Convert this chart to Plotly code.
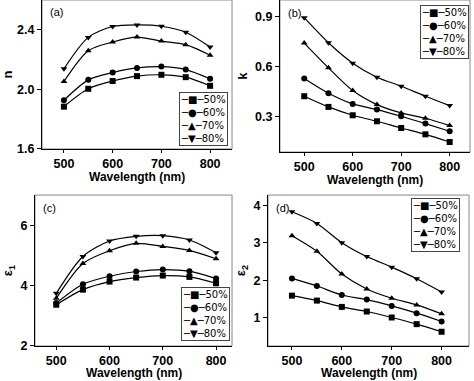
import plotly.graph_objects as go

wavelength = [500, 550, 600, 650, 700, 750, 800]
series_names = ["50%", "60%", "70%", "80%"]
series_glyphs = ["■", "●", "▲", "▼"]

n_50 = [1.884, 2.004, 2.056, 2.089, 2.098, 2.082, 2.024]
n_60 = [1.927, 2.064, 2.113, 2.144, 2.153, 2.133, 2.071]
n_70 = [2.053, 2.260, 2.318, 2.351, 2.324, 2.300, 2.229]
n_80 = [2.138, 2.349, 2.422, 2.433, 2.424, 2.384, 2.284]

k_50 = [0.424, 0.360, 0.310, 0.274, 0.234, 0.196, 0.150]
k_60 = [0.530, 0.442, 0.378, 0.344, 0.304, 0.260, 0.214]
k_70 = [0.742, 0.594, 0.458, 0.374, 0.324, 0.292, 0.248]
k_80 = [0.894, 0.744, 0.622, 0.538, 0.484, 0.424, 0.368]

e1_50 = [3.367, 3.867, 4.133, 4.267, 4.333, 4.289, 4.078]
e1_60 = [3.420, 4.044, 4.311, 4.467, 4.533, 4.478, 4.233]
e1_70 = [3.578, 4.733, 5.156, 5.400, 5.300, 5.167, 4.889]
e1_80 = [3.744, 4.967, 5.478, 5.633, 5.656, 5.511, 5.089]

e2_50 = [1.591, 1.459, 1.291, 1.168, 1.009, 0.832, 0.629]
e2_60 = [2.050, 1.847, 1.609, 1.485, 1.318, 1.124, 0.903]
e2_70 = [3.188, 2.774, 2.165, 1.768, 1.521, 1.344, 1.106]
e2_80 = [3.824, 3.515, 3.003, 2.632, 2.350, 2.041, 1.688]

x_ticks = [500, 600, 700, 800]
x_title = "Wavelength (nm)"

panels = [
    dict(data=[n_50, n_60, n_70, n_80], ytitle="n", label="(a)",
         xdom=[0.0886, 0.4895], ydom=[0.609, 1.0], xr=[455, 845], yr=[1.6, 2.6],
         ytick=[1.6, 2.0, 2.4], ytext=["1.6", "2.0", "2.4"], tshift=-28,
         leg=dict(x=0.979, y=0.02, yanchor="bottom")),
    dict(data=[k_50, k_60, k_70, k_80], ytitle="k", label="(b)",
         xdom=[0.5907, 0.9916], ydom=[0.601, 1.0], xr=[450, 842], yr=[0.09, 1.0],
         ytick=[0.3, 0.6, 0.9], ytext=["0.3", "0.6", "0.9"], tshift=-28,
         leg=dict(x=0.995, y=0.967, yanchor="top")),
    dict(data=[e1_50, e1_60, e1_70, e1_80], ytitle="ε<sub>1</sub>", label="(c)",
         xdom=[0.0738, 0.4895], ydom=[0.0919, 0.488], xr=[460, 830], yr=[2, 7],
         ytick=[2, 4, 6], ytext=["2", "4", "6"], tshift=-27,
         leg=dict(x=0.99, y=0.033, yanchor="bottom")),
    dict(data=[e2_50, e2_60, e2_70, e2_80], ytitle="ε<sub>2</sub>", label="(d)",
         xdom=[0.5654, 0.9895], ydom=[0.0919, 0.488], xr=[452, 855], yr=[0.25, 4.27],
         ytick=[1, 2, 3, 4], ytext=["1", "2", "3", "4"], tshift=-27,
         leg=dict(x=0.955, y=0.98, yanchor="top")),
]

symbols = ["square", "circle", "triangle-up", "triangle-down"]
legend_text = "<br>".join("─" + g + "─" + s for g, s in zip(series_glyphs, series_names))

fig = go.Figure()
layout = dict(
    width=474, height=381, margin=dict(l=0, r=0, t=0, b=0, autoexpand=False),
    paper_bgcolor="white", plot_bgcolor="white",
    font=dict(family="Liberation Sans, Arial, sans-serif", color="black"),
    annotations=[], shapes=[], showlegend=False,
)

for i, p in enumerate(panels):
    idx = "" if i == 0 else str(i + 1)
    xa, ya = "x" + idx, "y" + idx
    for j, vals in enumerate(p["data"]):
        fig.add_trace(go.Scatter(
            x=wavelength, y=vals, name=series_names[j],
            mode="lines+markers", line=dict(color="black", width=1.2, shape="spline", smoothing=0.8),
            marker=dict(symbol=symbols[j], size=6, color="black"),
            xaxis=xa, yaxis=ya, showlegend=False,
        ))
    layout["xaxis" + idx] = dict(
        domain=p["xdom"], range=p["xr"], anchor=ya, tickvals=x_ticks,
        ticks="outside", ticklen=3, tickcolor="black", showline=True, linecolor="black",
        linewidth=1.2, showgrid=False, zeroline=False, automargin=False,
        tickfont=dict(size=12.5, family="Liberation Sans, Arial", weight="bold"),
    )
    layout["yaxis" + idx] = dict(
        domain=p["ydom"], range=p["yr"], anchor=xa, tickvals=p["ytick"], ticktext=p["ytext"],
        ticks="outside", ticklen=4, tickcolor="black", showline=True, linecolor="black",
        linewidth=1.2, showgrid=False, zeroline=False, automargin=False,
        tickfont=dict(size=12.5, family="Liberation Sans, Arial", weight="bold"),
        title=dict(text="<b>" + p["ytitle"] + "</b>", font=dict(size=13), standoff=4),
    )
    layout["annotations"].append(dict(
        text="<b>" + x_title + "</b>", xref=xa + " domain", yref=ya + " domain",
        x=0.5, y=0, yshift=p["tshift"], xanchor="center", yanchor="middle",
        showarrow=False, font=dict(size=12),
    ))
    layout["annotations"].append(dict(
        text=p["label"], xref=xa + " domain", yref=ya + " domain",
        x=0.03, y=0.97, xanchor="left", yanchor="top", showarrow=False,
        font=dict(size=11),
    ))
    layout["annotations"].append(dict(
        text=legend_text, xref=xa + " domain", yref=ya + " domain",
        x=p["leg"]["x"], y=p["leg"]["y"], xanchor="right", yanchor=p["leg"]["yanchor"],
        showarrow=False, align="left", font=dict(size=10, family="DejaVu Sans"),
        bordercolor="#444", borderwidth=1, borderpad=1, bgcolor="white",
    ))
    layout["shapes"].append(dict(
        type="rect", xref=xa + " domain", yref=ya + " domain", x0=0, x1=1, y0=0, y1=1,
        line=dict(color="#888", width=1), layer="below",
    ))

fig.update_layout(**layout)
fig.write_html(
    "out.html",
    config={"displayModeBar": False},
    post_script="document.body.style.margin='0';document.body.style.overflow='hidden';",
)
